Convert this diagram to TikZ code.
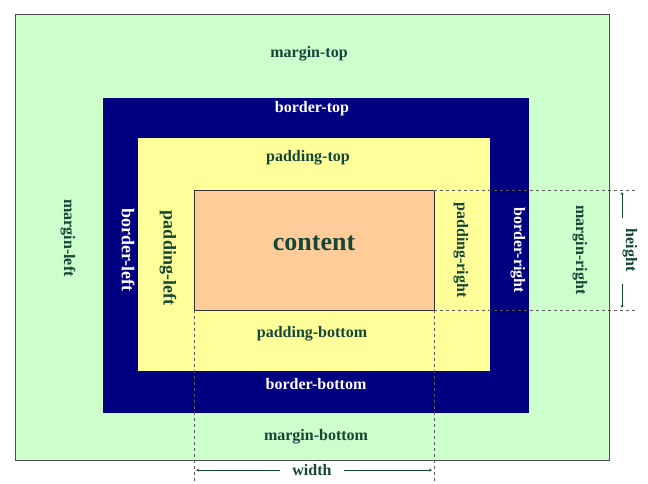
\documentclass[tikz,border=0pt]{standalone}
\usepackage{fontspec}
\setmainfont{Liberation Serif}
\definecolor{mg}{RGB}{204,255,204}
\definecolor{bd}{RGB}{0,0,128}
\definecolor{pd}{RGB}{255,255,153}
\definecolor{ct}{RGB}{255,204,153}
\definecolor{tx}{RGB}{20,70,55}
\tikzset{lbl/.style={text=tx,font=\bfseries\fontsize{16}{16}\selectfont,inner sep=0pt},
wl/.style={lbl,text=white},
dl/.style={dashed,gray!70!black,thin},
ar/.style={-stealth,tx,thin}}
\begin{document}
\begin{tikzpicture}[x=1pt,y=-1pt]
\useasboundingbox (0,0) rectangle (648,484);
\fill[white] (0,0) rectangle (648,484);
\draw[fill=mg,draw=black!70] (15,14) rectangle (609,460);
\fill[bd] (103,98) rectangle (529,413);
\fill[pd] (138,138) rectangle (490,371);
\draw[fill=ct,draw=black!80] (194,190) rectangle (434,310);
\node[lbl,font=\bfseries\fontsize{26}{26}\selectfont] (c) at (314,243) {content};
\node[lbl] (mt) at (309,54) {margin-top};
\node[lbl] (mb) at (316,437) {margin-bottom};
\node[lbl,rotate=-90] (ml) at (68,238) {margin-left};
\node[lbl,rotate=-90] (mr) at (580,250) {margin-right};
\node[wl] (bt) at (312,109) {border-top};
\node[wl] (bb) at (316,384) {border-bottom};
\node[wl,rotate=-90,font=\bfseries\fontsize{18}{18}\selectfont] (bl) at (128,250) {border-left};
\node[wl,rotate=-90] (br) at (518,250) {border-right};
\node[lbl] (pt) at (308,158) {padding-top};
\node[lbl] (pb) at (312,334) {padding-bottom};
\node[lbl,rotate=-90,font=\bfseries\fontsize{18}{18}\selectfont] (pl) at (168,258) {padding-left};
\node[lbl,rotate=-90] (pr) at (461,250) {padding-right};
\coordinate (h1) at (635,190); \coordinate (h2) at (635,310);
\coordinate (w1) at (194,484); \coordinate (w2) at (434,484);
\draw[dl] (434,190) -- (h1);
\draw[dl] (434,310) -- (h2);
\draw[dl] (194,310) -- (w1);
\draw[dl] (434,310) -- (w2);
\node[lbl,rotate=-90] (ht) at (630,250) {height};
\coordinate (ha) at (622,192); \coordinate (hb) at (622,308);
\draw[ar] (622,218) -- (ha);
\draw[ar] (622,284) -- (hb);
\node[lbl] (wd) at (312,470) {width};
\draw[ar] (wd.west) ++(-12,0) -- (196,470);
\draw[ar] (wd.east) ++(12,0) -- (432,470);
\end{tikzpicture}
\end{document}
